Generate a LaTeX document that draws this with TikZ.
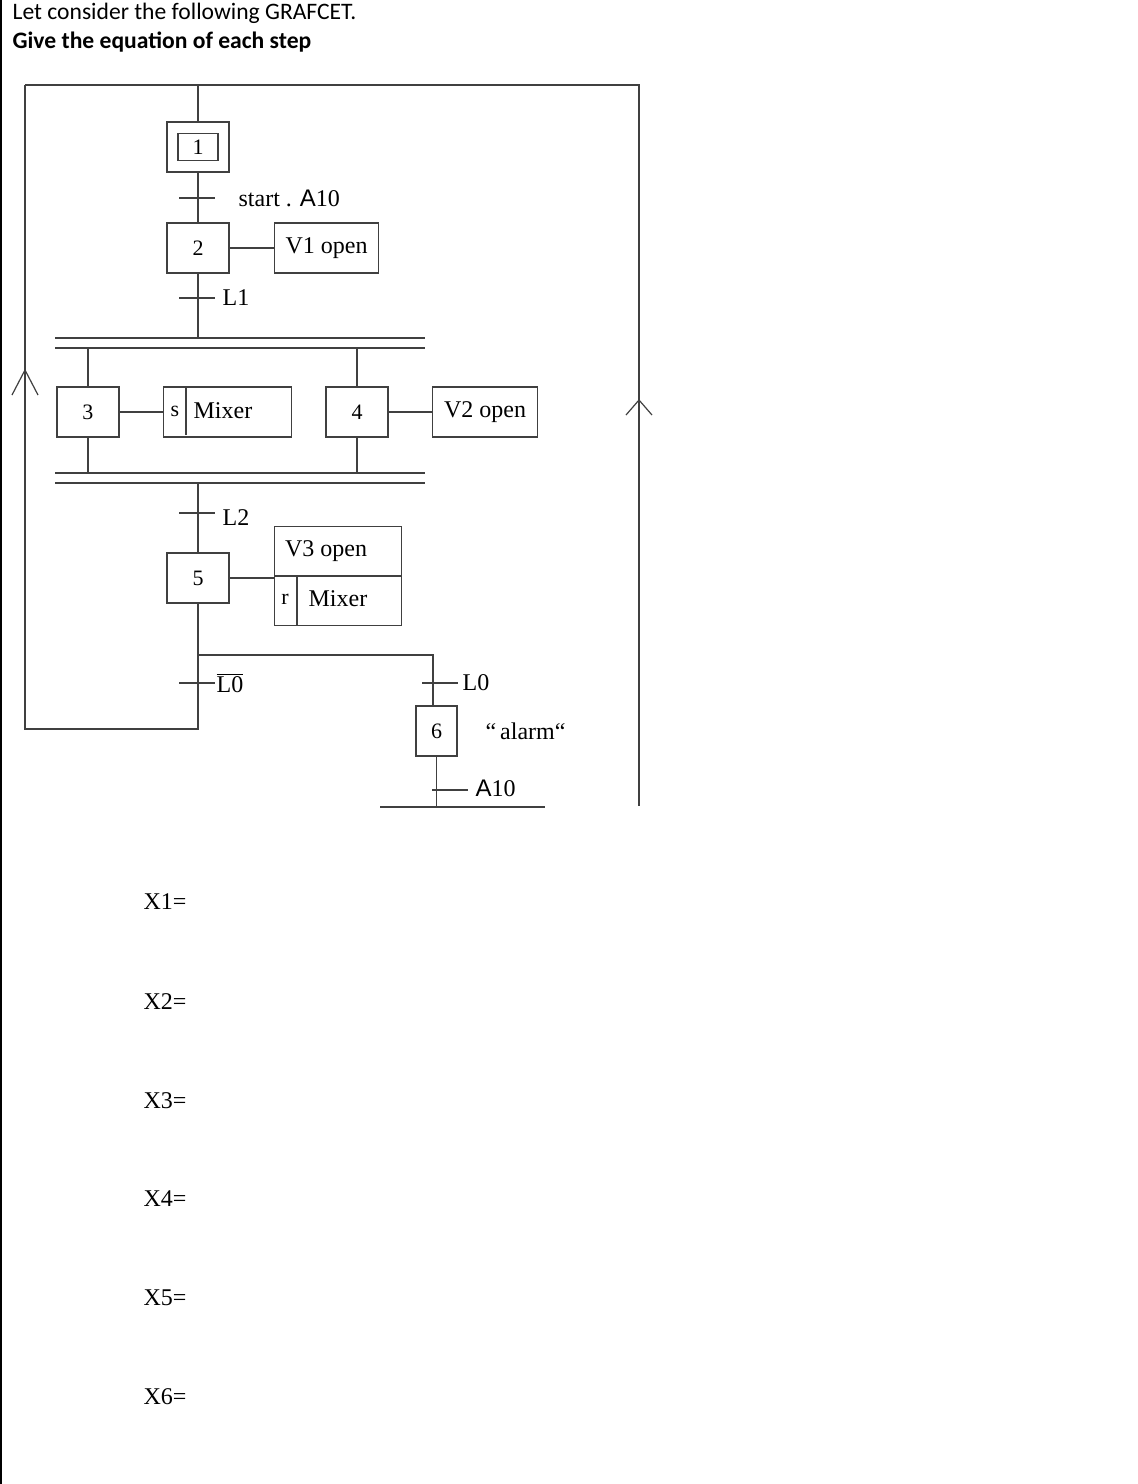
\documentclass[tikz,border=0pt]{standalone}
\usepackage{fontspec}
\setmainfont{Liberation Serif}
\newfontfamily\hdfont{Carlito}
\newfontfamily\arfont{Liberation Sans}
\usetikzlibrary{positioning,calc}
\tikzset{
    grstep/.style={draw, rectangle, minimum width=31pt, minimum height=25pt,
                 inner sep=0pt, font=\fontsize{11}{13}\selectfont},
    action/.style={draw, rectangle, minimum height=25pt, inner sep=0pt,
                   font=\fontsize{12}{14}\selectfont},
    trans/.style={font=\fontsize{12}{14}\selectfont, anchor=west, inner sep=1pt},
    eqn/.style={font=\fontsize{12}{14}\selectfont, anchor=west, inner sep=0pt}
}
\begin{document}
\begin{tikzpicture}[x=0.5pt,y=-0.5pt, line width=0.6pt, draw=black!75]
    \useasboundingbox (0,0) rectangle (1138,1484);
    \fill[black] (0,0) rectangle (2,1484);

    % Titre
    \node[anchor=west, inner sep=0pt, font=\hdfont\fontsize{11.8}{13}\selectfont] (title) at (12,13) {Let consider the following GRAFCET.};
    \node[anchor=west, inner sep=0pt, font=\hdfont\bfseries\fontsize{11.8}{13}\selectfont] (task) at (12,42) {Give the equation of each step};

    % Etapes
    \node[grstep] (s1) at (198,147) {};
    \node[draw, rectangle, minimum width=20pt, minimum height=13.5pt, inner sep=0pt,
          font=\fontsize{11}{13}\selectfont] (s1i) at (198,147) {1};
    \node[grstep] (s2) at (198,248) {2};
    \node[action, minimum width=52pt, anchor=west] (a2) at (274,248) {V1 open};
    \node[grstep] (s3) at (88,412) {3};
    \node[action, minimum width=64pt, anchor=west] (a3) at (163,412) {};
    \node[grstep] (s4) at (357,412) {4};
    \node[action, minimum width=52.5pt, anchor=west] (a4) at (432,412) {V2 open};
    \node[grstep] (s5) at (198,578) {5};
    \node[action, minimum width=63.5pt, anchor=north west] (a5a) at (274,526) {\,V3 open\hspace*{14pt}};
    \node[action, minimum width=63.5pt, anchor=north west] (a5b) at (274,575) {};
    \node[grstep, minimum width=20.5pt] (s6) at (436.5,731) {6};
    \draw[line width=1.2pt] (a3.north west) ++(23,0) -- ++(0,49);
    \node[font=\fontsize{11}{13}\selectfont] (sl) at (175,411) {s};
    \node[trans, inner sep=0pt] (m3) at (193,411) {Mixer};
    \draw[line width=1.2pt] (a5b.north west) ++(23,0) -- ++(0,50);
    \node[font=\fontsize{11}{13}\selectfont] (rl) at (285,599) {r};
    \node[trans, inner sep=0pt] (m5) at (308,599) {Mixer};
    \node[font=\fontsize{12}{14}\selectfont, anchor=west, inner sep=0pt] (alarm) at (485,731) {``\,alarm``};

    % Liaisons
    \coordinate (top) at (198,85);
    \coordinate (tl) at (25,85);
    \coordinate (tr) at (639,85);
    \coordinate (br) at (639,806);
    \coordinate (bl) at (25,729);
    \coordinate (jn) at (198,729);
    \coordinate (fork) at (198,655);
    \coordinate (fr) at (433,655);
    \coordinate (end6) at (436.5,807);
    \draw (top) -- (s1.north);
    \draw (tl) -- (tr) -- (br);
    \draw (tl) -- (bl) -- (jn) -- (s5.south);
    \draw (fork) -- (fr) -- (fr |- s6.north);
    \draw (s1.south) -- (s2.north);
    \draw (s2.east) -- (a2.west);
    \draw (s3.east) -- (a3.west);
    \draw (s4.east) -- (a4.west);
    \draw (s5.east) -- (s5.east -| a5b.west);
    \draw (s6.south) -- (end6);
    \draw (s2.south) -- (198,338);
    \draw (55,338) -- (425,338);
    \draw (55,348) -- (425,348);
    \draw (55,473) -- (425,473);
    \draw (55,483) -- (425,483);
    \draw (88,348) -- (s3.north);
    \draw (357,348) -- (s4.north);
    \draw (s3.south) -- (88,473);
    \draw (s4.south) -- (357,473);
    \draw (198,483) -- (s5.north);
    \draw[line width=1.2pt] (380,807) -- (545,807);
    % fleches
    \draw (12,395) -- (25,370) -- (38,395);
    \draw (626,415) -- (639,400) -- (652,415);

    % Receptivites
    \foreach \x/\y in {198/198, 198/298, 198/513, 198/683, 441/683, 451/790}
        \draw (\x-19,\y) -- (\x+17,\y);
    \node[trans] (t1) at (236,198) {start . {\arfont A}10};
    \node[trans] (t2) at (220,298) {L1};
    \node[trans] (t3) at (220,518) {L2};
    \node[trans] (t4) at (214,683) {$\overline{\mbox{L0}}$};
    \node[trans] (t5) at (460,683) {L0};
    \node[trans] (t6) at (473,788) {{\arfont A}10};

    % Equations
    \foreach \i/\y in {1/902, 2/1002, 3/1101, 4/1199, 5/1298, 6/1397}
        \node[eqn] (x\i) at (143,\y) {X\i=};
\end{tikzpicture}
\end{document}
